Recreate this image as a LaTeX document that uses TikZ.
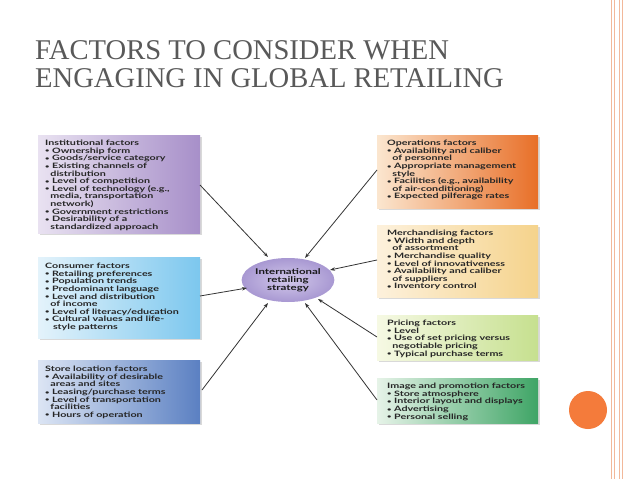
\documentclass[tikz,border=0pt]{standalone}
\usepackage{fontspec}
\setmainfont{Liberation Serif}
\newfontfamily\boxfont[FakeStretch=1.45]{Lato}
\usetikzlibrary{arrows.meta,shapes.geometric}
\definecolor{titlegray}{HTML}{595959}
\definecolor{rline}{HTML}{F2B89A}
\definecolor{instA}{HTML}{E9E2F1}\definecolor{instB}{HTML}{A78FC9}
\definecolor{consA}{HTML}{E4F3FB}\definecolor{consB}{HTML}{7CC7EE}
\definecolor{storeA}{HTML}{DCE5F4}\definecolor{storeB}{HTML}{5B80C2}
\definecolor{operA}{HTML}{FBE6CF}\definecolor{operB}{HTML}{E86F28}
\definecolor{merchA}{HTML}{FDF1DC}\definecolor{merchB}{HTML}{F5D38C}
\definecolor{priceA}{HTML}{F6F9E4}\definecolor{priceB}{HTML}{C6E08F}
\definecolor{imageA}{HTML}{E6F3E8}\definecolor{imageB}{HTML}{3FA566}
\definecolor{ctrA}{HTML}{D2C8EA}\definecolor{ctrB}{HTML}{A898D2}
\definecolor{dot}{HTML}{F47B3B}
\newcommand\bul{{\raisebox{0.12ex}{\scalebox{0.7}{•}}}}
\begin{document}
\begin{tikzpicture}[x=1pt,y=-1pt,
  ftext/.style={anchor=north west,align=left,inner sep=0pt,font=\boxfont\bfseries\fontsize{7.4}{7.6}\selectfont,text=black!85},
  arr/.style={-{Stealth[length=5pt,width=3.5pt]},line width=0.8pt,black!80}]
\useasboundingbox (0,0) rectangle (638,479);
\fill[white] (0,0) rectangle (638,479);
% right border lines
\foreach \xx in {611,614,619,622} \draw[rline,line width=0.8pt] (\xx,0) -- (\xx,479);
% title
\node[anchor=west,inner sep=0pt,text=titlegray,font=\fontsize{28.6}{28}\selectfont,align=left] (title) at (35,64) {FACTORS TO CONSIDER WHEN\\ENGAGING IN GLOBAL RETAILING};
% boxes
\newcommand\fbx[6]{%
 \fill[black!15] (#1+2,#2+2) rectangle (#3+2,#4+2);
 \shade[left color=#5A,right color=#5B] (#1,#2) rectangle (#3,#4);
 \coordinate (#6) at (#1,#2);}
\fbx{38}{135}{200}{233}{inst}{binst}
\fbx{38}{257}{200}{338}{cons}{bcons}
\fbx{38}{360}{200}{423}{store}{bstore}
\fbx{377}{135}{538}{208}{oper}{boper}
\fbx{377}{225}{538}{297}{merch}{bmerch}
\fbx{377}{315}{538}{360}{price}{bprice}
\fbx{377}{378}{538}{423}{image}{bimage}
\node[ftext] (tinst) at (45,140) {Institutional factors\\
\bul\ Ownership form\\\bul\ Goods/service category\\\bul\ Existing channels of\\\ \ distribution\\\bul\ Level of competition\\\bul\ Level of technology (e.g.,\\\ \ media, transportation\\\ \ network)\\\bul\ Government restrictions\\\bul\ Desirability of a\\\ \ standardized approach};
\node[ftext] (tcons) at (45,263) {Consumer factors\\\bul\ Retailing preferences\\\bul\ Population trends\\\bul\ Predominant language\\\bul\ Level and distribution\\\ \ of income\\\bul\ Level of literacy/education\\\bul\ Cultural values and life-\\\ \ \ style patterns};
\node[ftext] (tstore) at (45,366) {Store location factors\\\bul\ Availability of desirable\\\ \ areas and sites\\\bul\ Leasing/purchase terms\\\bul\ Level of transportation\\\ \ facilities\\\bul\ Hours of operation};
\node[ftext] (toper) at (387,140) {Operations factors\\\bul\ Availability and caliber\\\ \ of personnel\\\bul\ Appropriate management\\\ \ style\\\bul\ Facilities (e.g., availability\\\ \ of air-conditioning)\\\bul\ Expected pilferage rates};
\node[ftext] (tmerch) at (387,230) {Merchandising factors\\\bul\ Width and depth\\\ \ of assortment\\\bul\ Merchandise quality\\\bul\ Level of innovativeness\\\bul\ Availability and caliber\\\ \ of suppliers\\\bul\ Inventory control};
\node[ftext] (tprice) at (387,320) {Pricing factors\\\bul\ Level\\\bul\ Use of set pricing versus\\\ \ negotiable pricing\\\bul\ Typical purchase terms};
\node[ftext] (timage) at (387,383) {Image and promotion factors\\\bul\ Store atmosphere\\\bul\ Interior layout and displays\\\bul\ Advertising\\\bul\ Personal selling};
% center
\node[ellipse,minimum width=80pt,minimum height=44pt,inner sep=0pt,inner color=ctrA,outer color=ctrB,
  align=center,font=\boxfont\bfseries\fontsize{7.9}{8}\selectfont,text=black!90] (ctr) at (288,280) {International\\retailing\\strategy};
% arrows
\coordinate (ainst) at (200,185); \coordinate (acons) at (200,296); \coordinate (astore) at (202,390);
\coordinate (aoper) at (377,170); \coordinate (amerch) at (377,260); \coordinate (aprice) at (377,337); \coordinate (aimage) at (377,400);
\coordinate (einst) at (268,257); \coordinate (econs) at (247,288); \coordinate (estore) at (268,303);
\coordinate (eoper) at (305,258); \coordinate (emerch) at (330,270); \coordinate (eprice) at (318,299); \coordinate (eimage) at (305,303);
\foreach \n in {inst,cons,store,oper,merch,price,image} \draw[arr] (a\n) -- (e\n);
% orange dot
\fill[dot] (588,410) circle (19);
\end{tikzpicture}
\end{document}
